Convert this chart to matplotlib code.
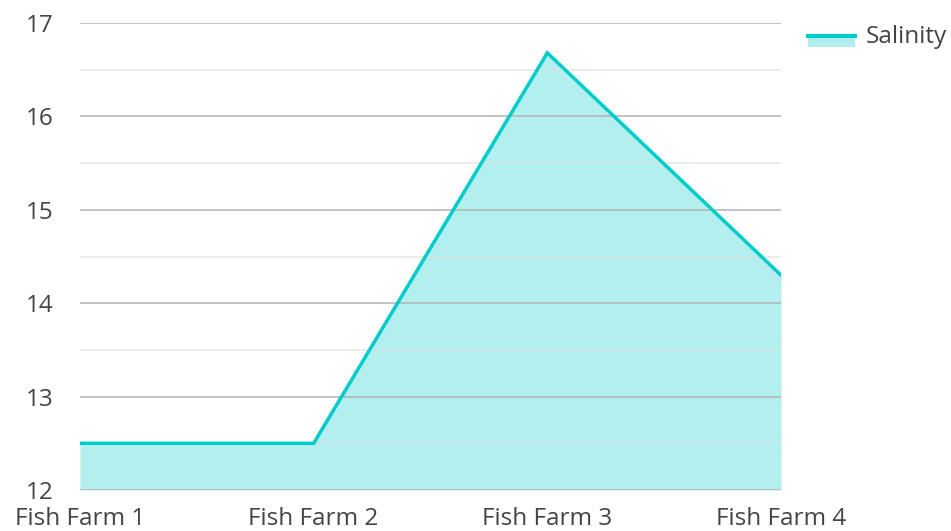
import matplotlib.pyplot as plt
from matplotlib.patches import Rectangle
from matplotlib.lines import Line2D

farms = ['Fish Farm 1', 'Fish Farm 2', 'Fish Farm 3', 'Fish Farm 4']
salinity = [12.5, 12.5, 16.68, 14.3]
y_ticks = [12, 13, 14, 15, 16, 17]
y_minor = [12.5, 13.5, 14.5, 15.5, 16.5]

line_c = '#00cccc'
fill_c = '#b2efee'
txt_c = '#444444'

plt.rcParams['font.family'] = ['Open Sans', 'DejaVu Sans']

fig = plt.figure(figsize=(9.51, 5.31), dpi=100)
ax = fig.add_axes([80 / 951, 1 - 490 / 531, 701 / 951, 467 / 531])

x = list(range(len(farms)))
ax.fill_between(x, 12, salinity, color=fill_c, lw=0, zorder=1)
ax.plot(x, salinity, color=line_c, lw=2.5, zorder=3, solid_joinstyle='miter')

for v in y_ticks:
    ax.axhline(v, color='#b4b4b4', lw=1.4, alpha=0.8, zorder=2)
for v in y_minor:
    ax.axhline(v, color='#dddddd', lw=1.4, alpha=0.6, zorder=2)

ax.set_xlim(0, 3)
ax.set_ylim(12, 17)
ax.set_yticks(y_ticks)
ax.set_yticklabels([str(v) for v in y_ticks])
ax.set_xticks(x)
ax.set_xticklabels(farms)
ax.tick_params(length=0, labelsize=17.5, colors=txt_c)
ax.tick_params(axis='y', pad=19)
ax.tick_params(axis='x', pad=12.5)
for s in ax.spines.values():
    s.set_visible(False)
ax.set_facecolor('none')

# legend
fig.add_artist(Rectangle((808 / 951, 1 - 47 / 531), 47 / 951, 12 / 531,
                         transform=fig.transFigure, color=fill_c, lw=0))
fig.add_artist(Line2D([808 / 951, 855 / 951], [1 - 36 / 531, 1 - 36 / 531],
                      transform=fig.transFigure, color=line_c, lw=3))
fig.text(866 / 951, 1 - 37 / 531, 'Salinity', fontsize=17.5, color=txt_c,
         va='center', ha='left')

fig.savefig('out.png', dpi=100)
